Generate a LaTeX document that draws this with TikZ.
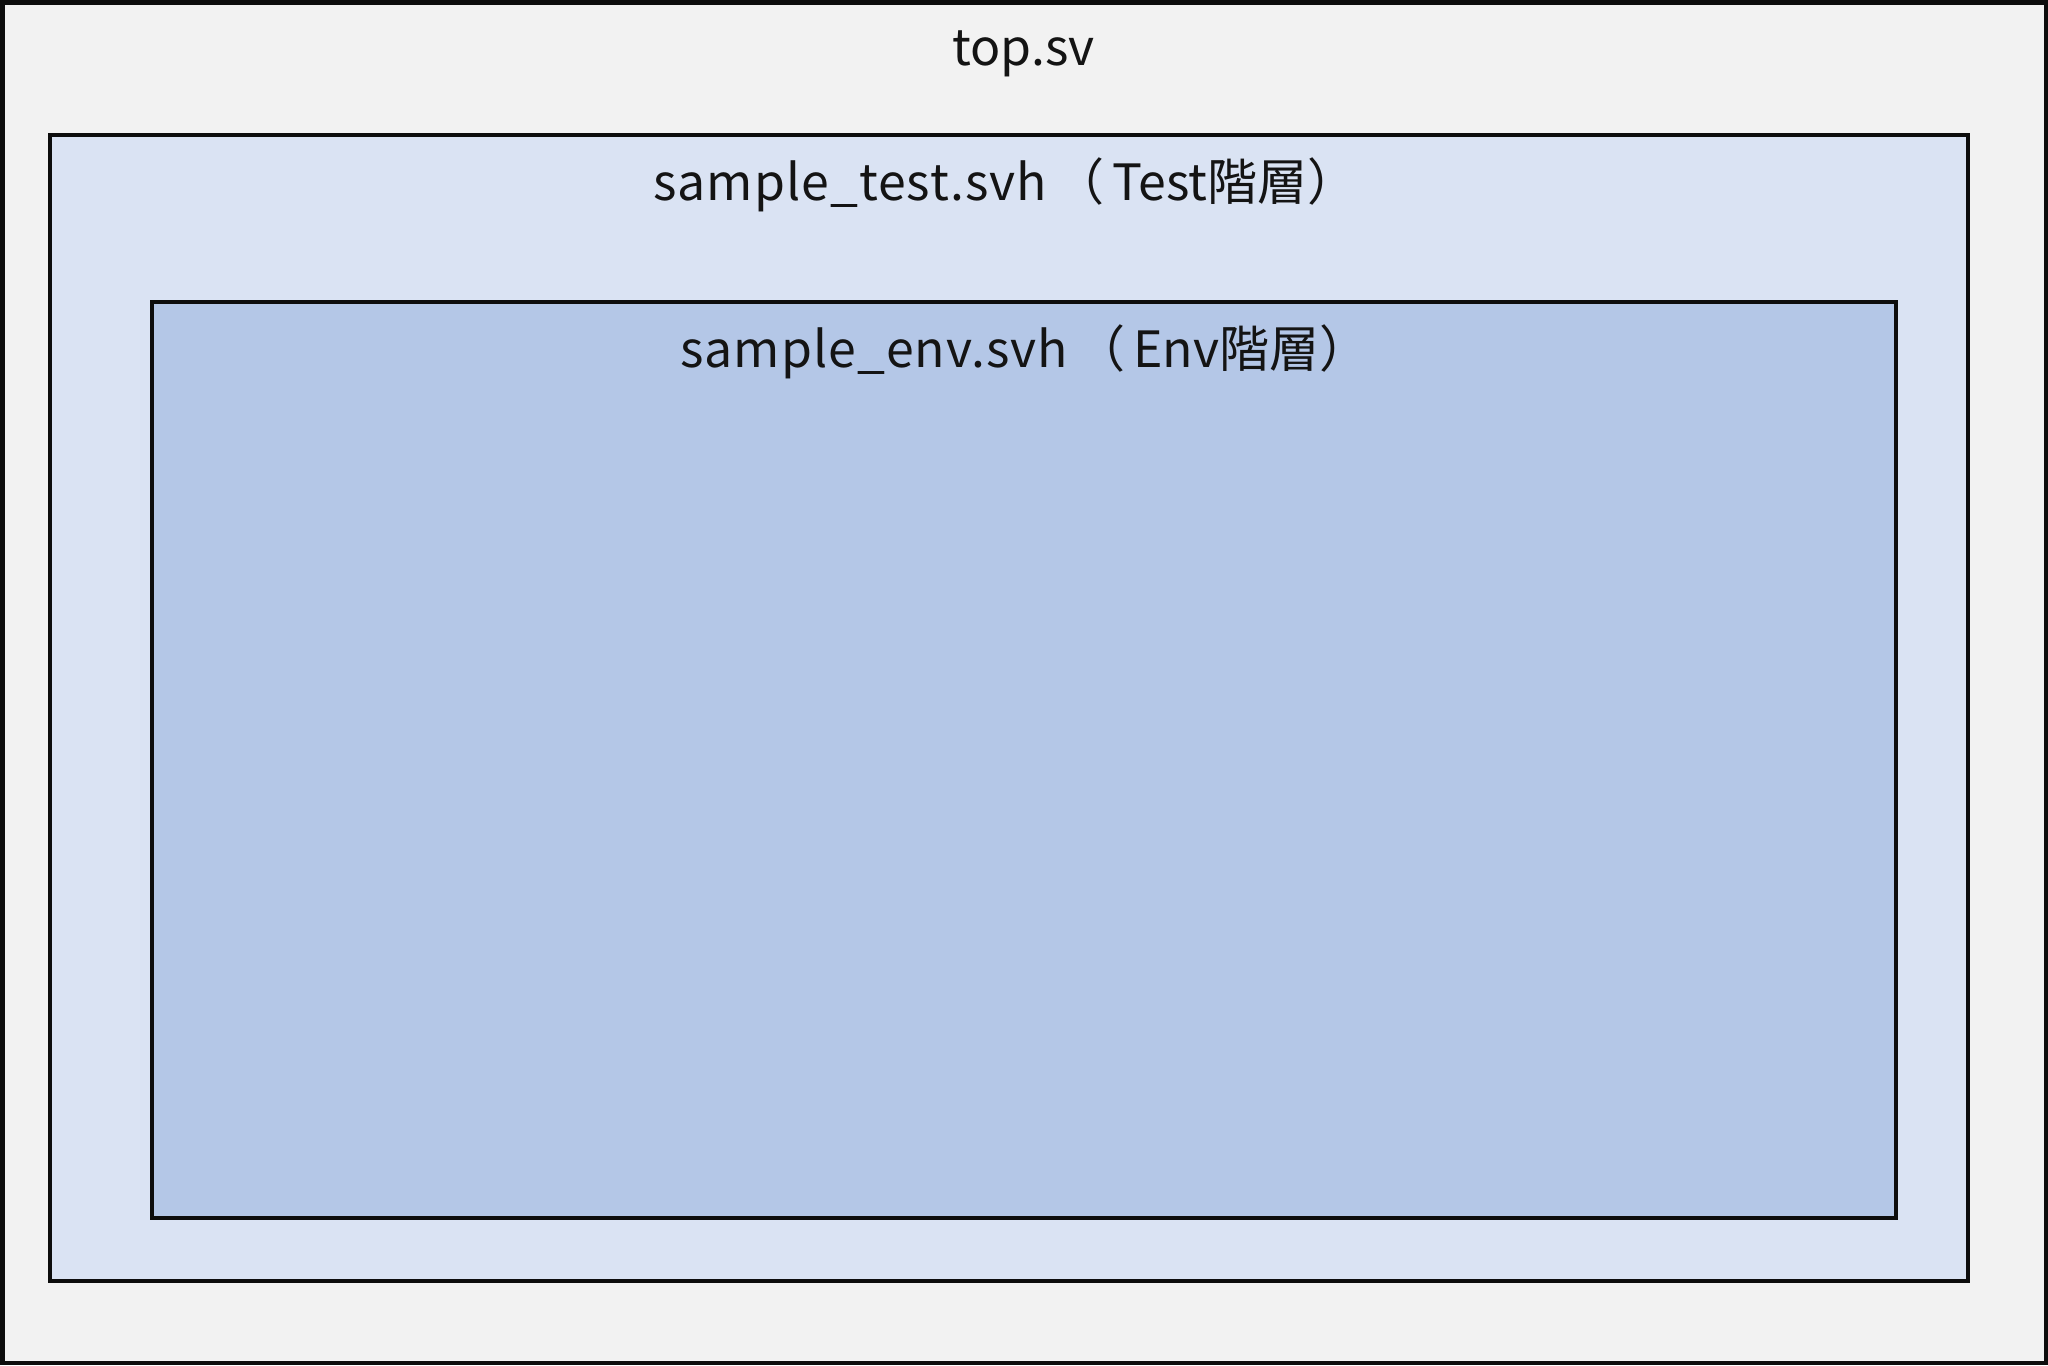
\documentclass[tikz,border=0pt]{standalone}
\usepackage{fontspec}
\newfontfamily\jp{Noto Sans CJK JP}
\newfontfamily\jpwide[LetterSpace=2]{Noto Sans CJK JP}
\definecolor{bgtop}{HTML}{F2F2F2}
\definecolor{bgtest}{HTML}{DAE3F3}
\definecolor{bgenv}{HTML}{B4C7E7}
\begin{document}
\begin{tikzpicture}[x=0.5pt,y=-0.5pt,
  frame/.style={draw=black!95, line width=2.25pt},
  lbl/.style={inner sep=0pt, anchor=base west, font=\jp\fontsize{25}{30}\selectfont, text=black!92}]
\useasboundingbox (0,0) rectangle (2048,1365);
\coordinate (topA) at (2.25,2.25);
\coordinate (topB) at (2045.75,1362.75);
\coordinate (testA) at (50,135);
\coordinate (testB) at (1968,1281);
\coordinate (envA) at (152,302);
\coordinate (envB) at (1896,1218);
\fill[bgtop] (0,0) rectangle (2048,1365);
\draw[frame] (topA) rectangle (topB);
\draw[frame, fill=bgtest] (testA) rectangle (testB);
\draw[frame, fill=bgenv] (envA) rectangle (envB);
\node[lbl] (ltop) at (952,65) {top.sv};
\node[lbl] (ltest) at (653,200) {{\jpwide sample\_test.svh}\hspace{3.5pt}（\hspace{4pt}Test階層）};
\node[lbl] (lenv) at (680,367) {{\jpwide sample\_env.svh}\hspace{3.5pt}（\hspace{4pt}Env階層）};
\end{tikzpicture}
\end{document}
